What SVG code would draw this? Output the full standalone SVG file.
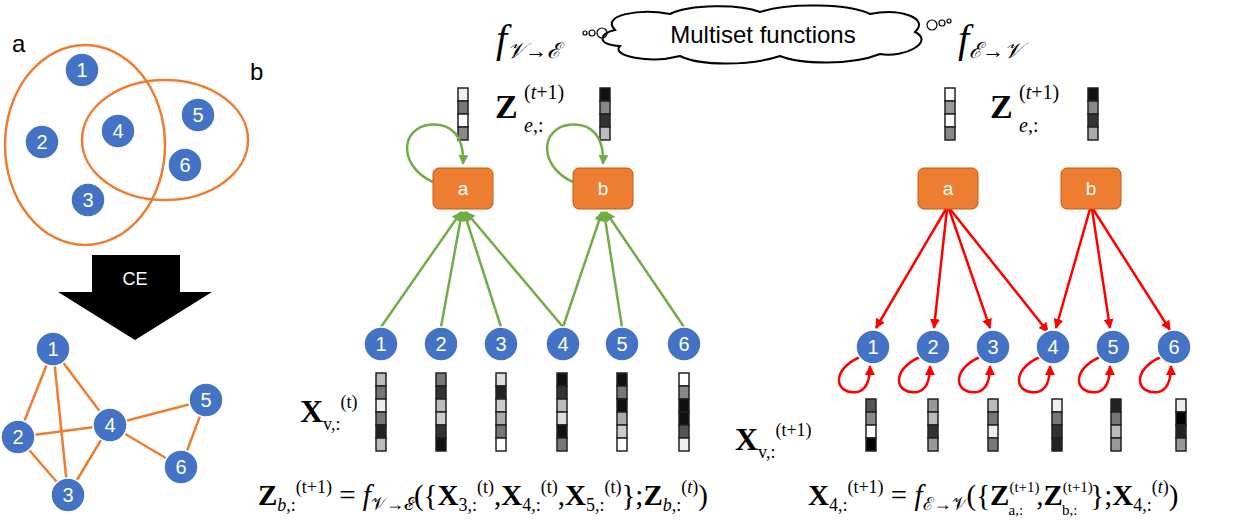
<svg xmlns="http://www.w3.org/2000/svg" width="1242" height="522" viewBox="0 0 1242 522">
<style>
.n{fill:#4472c4;stroke:#fff;stroke-width:1.5}
.nt{font-family:"Liberation Sans",Arial,sans-serif;font-size:20px;fill:#fff;text-anchor:middle}
.oe{fill:none;stroke:#ed7d31;stroke-width:2.5}
.box{fill:#ed7d31;stroke:#c55a11;stroke-width:1}
.bt{font-family:"Liberation Sans",Arial,sans-serif;font-size:19px;fill:#fff;text-anchor:middle}
.g{fill:none;stroke:#70ad47;stroke-width:2.5}
.r{fill:none;stroke:#ff0000;stroke-width:2.5}
.m{font-family:"Liberation Serif","Times New Roman",serif;fill:#000}
.c rect{stroke:#222;stroke-width:1.5}
.lbl{font-family:"Liberation Sans",Arial,sans-serif;font-size:24px}
</style>
<defs>
<marker id="ga" viewBox="0 0 10 10" refX="9" refY="5" markerWidth="4" markerHeight="4" orient="auto"><path d="M0,0L10,5L0,10z" fill="#70ad47"/></marker>
<marker id="ra" viewBox="0 0 10 10" refX="9" refY="5" markerWidth="4" markerHeight="4" orient="auto"><path d="M0,0L10,5L0,10z" fill="#ff0000"/></marker>
</defs>
<rect width="1242" height="522" fill="#fff"/>
<!-- panel a -->
<text class="lbl" x="12" y="52">a</text>
<ellipse class="oe" cx="85" cy="145" rx="80" ry="100"/>
<ellipse class="oe" cx="165" cy="140" rx="83" ry="60"/>
<g id="a1"><circle class="n" cx="82" cy="70" r="17"/><text class="nt" x="82" y="77">1</text></g>
<g id="a2"><circle class="n" cx="42" cy="142" r="17"/><text class="nt" x="42" y="149">2</text></g>
<g id="a3"><circle class="n" cx="88" cy="200" r="17"/><text class="nt" x="88" y="207">3</text></g>
<g id="a4"><circle class="n" cx="118" cy="131" r="17"/><text class="nt" x="118" y="138">4</text></g>
<g id="a5"><circle class="n" cx="198" cy="115" r="17"/><text class="nt" x="198" y="122">5</text></g>
<g id="a6"><circle class="n" cx="185" cy="165" r="17"/><text class="nt" x="185" y="172">6</text></g>
<g id="ce"><path d="M92,255H180V292H212L135,340L58,292H92Z" fill="#000"/><text x="135" y="285" font-family="Liberation Sans,Arial,sans-serif" font-size="18" fill="#fff" text-anchor="middle">CE</text></g>
<g id="ceedges" stroke="#ed7d31" stroke-width="2.5">
<line x1="53" y1="349" x2="18" y2="437"/><line x1="53" y1="349" x2="68" y2="495"/><line x1="53" y1="349" x2="110" y2="425"/>
<line x1="18" y1="437" x2="68" y2="495"/><line x1="18" y1="437" x2="110" y2="425"/><line x1="68" y1="495" x2="110" y2="425"/>
<line x1="110" y1="425" x2="206" y2="400"/><line x1="206" y1="400" x2="181" y2="467"/><line x1="110" y1="425" x2="181" y2="467"/>
</g>
<g id="c1"><circle class="n" cx="53" cy="349" r="17"/><text class="nt" x="53" y="356">1</text></g>
<g id="c2"><circle class="n" cx="18" cy="437" r="17"/><text class="nt" x="18" y="444">2</text></g>
<g id="c3"><circle class="n" cx="68" cy="495" r="17"/><text class="nt" x="68" y="502">3</text></g>
<g id="c4"><circle class="n" cx="110" cy="425" r="17"/><text class="nt" x="110" y="432">4</text></g>
<g id="c5"><circle class="n" cx="206" cy="400" r="17"/><text class="nt" x="206" y="407">5</text></g>
<g id="c6"><circle class="n" cx="181" cy="467" r="17"/><text class="nt" x="181" y="474">6</text></g>
<!-- panel b -->
<text class="lbl" x="250" y="80">b</text>
<g id="cloud">
<path d="M615,30 C600,15 640,8 670,14 C690,4 740,4 760,12 C790,2 850,4 870,14 C900,8 930,18 915,32 C935,42 905,58 880,54 C850,66 800,64 780,56 C750,66 700,66 680,56 C650,64 610,56 620,46 C595,44 600,33 615,30Z" fill="#fff" stroke="#000" stroke-width="2"/>
<text x="763" y="43" font-family="Liberation Sans,Arial,sans-serif" font-size="24" text-anchor="middle">Multiset functions</text>
<circle cx="585" cy="33" r="2" fill="none" stroke="#000" stroke-width="1.2"/><circle cx="592" cy="33" r="3" fill="none" stroke="#000" stroke-width="1.2"/><circle cx="602" cy="33" r="5" fill="none" stroke="#000" stroke-width="1.2"/>
<circle cx="932" cy="25" r="5" fill="none" stroke="#000" stroke-width="1.2"/><circle cx="942" cy="23" r="3" fill="none" stroke="#000" stroke-width="1.2"/><circle cx="949" cy="21" r="2" fill="none" stroke="#000" stroke-width="1.2"/>
</g>
<text class="m" x="496" y="52" font-size="40" font-style="italic">f<tspan font-size="22" dy="6">𝒱→ℰ</tspan></text>
<text class="m" x="958" y="52" font-size="40" font-style="italic">f<tspan font-size="22" dy="6">ℰ→𝒱</tspan></text>
<g id="zl1"><text class="m" x="495" y="118" font-size="34" font-weight="bold">Z</text><text class="m" x="524" y="99" font-size="20">(<tspan font-style="italic">t</tspan>+1)</text><text class="m" x="524" y="132" font-size="20" font-style="italic">e<tspan font-style="normal">,:</tspan></text></g>
<g id="zl2"><text class="m" x="990" y="118" font-size="34" font-weight="bold">Z</text><text class="m" x="1019" y="99" font-size="20">(<tspan font-style="italic">t</tspan>+1)</text><text class="m" x="1019" y="132" font-size="20" font-style="italic">e<tspan font-style="normal">,:</tspan></text></g>
<!-- Z vectors -->
<g class="c">
<rect x="458" y="88" width="10" height="13" fill="#eee"/><rect x="458" y="101" width="10" height="13" fill="#777"/><rect x="458" y="114" width="10" height="13" fill="#fff"/><rect x="458" y="127" width="10" height="13" fill="#888"/>
<rect x="600" y="88" width="10" height="13" fill="#111"/><rect x="600" y="101" width="10" height="13" fill="#888"/><rect x="600" y="114" width="10" height="13" fill="#333"/><rect x="600" y="127" width="10" height="13" fill="#bbb"/>
<rect x="945" y="88" width="10" height="13" fill="#fff"/><rect x="945" y="101" width="10" height="13" fill="#999"/><rect x="945" y="114" width="10" height="13" fill="#fff"/><rect x="945" y="127" width="10" height="13" fill="#888"/>
<rect x="1088" y="88" width="10" height="13" fill="#111"/><rect x="1088" y="101" width="10" height="13" fill="#888"/><rect x="1088" y="114" width="10" height="13" fill="#333"/><rect x="1088" y="127" width="10" height="13" fill="#aaa"/>
</g>
<g id="connectors">
<path class="g" d="M433,182 C395,165 400,120 440,125 C458,128 464,145 463,164" marker-end="url(#ga)"/>
<path class="g" d="M573,182 C535,165 540,120 580,125 C598,128 604,145 603,164" marker-end="url(#ga)"/>
<line class="g" x1="381" y1="327" x2="461" y2="212" marker-end="url(#ga)"/>
<line class="g" x1="441" y1="327" x2="462" y2="212" marker-end="url(#ga)"/>
<line class="g" x1="501" y1="327" x2="464" y2="212" marker-end="url(#ga)"/>
<line class="g" x1="563" y1="327" x2="466" y2="212" marker-end="url(#ga)"/>
<line class="g" x1="563" y1="327" x2="602" y2="212" marker-end="url(#ga)"/>
<line class="g" x1="622" y1="327" x2="604" y2="212" marker-end="url(#ga)"/>
<line class="g" x1="684" y1="327" x2="606" y2="212" marker-end="url(#ga)"/>
<line class="r" x1="946" y1="209" x2="876" y2="328" marker-end="url(#ra)"/>
<line class="r" x1="947" y1="209" x2="934" y2="328" marker-end="url(#ra)"/>
<line class="r" x1="949" y1="209" x2="990" y2="328" marker-end="url(#ra)"/>
<line class="r" x1="950" y1="209" x2="1048" y2="332" marker-end="url(#ra)"/>
<line class="r" x1="1090" y1="209" x2="1056" y2="328" marker-end="url(#ra)"/>
<line class="r" x1="1092" y1="209" x2="1110" y2="328" marker-end="url(#ra)"/>
<line class="r" x1="1093" y1="209" x2="1170" y2="330" marker-end="url(#ra)"/>
<path class="r" d="M860,357 C830,370 835,395 857,392 C868,390 870,378 870,366" marker-end="url(#ra)"/>
<path class="r" d="M920,357 C890,370 895,395 917,392 C928,390 930,378 930,366" marker-end="url(#ra)"/>
<path class="r" d="M980,357 C950,370 955,395 977,392 C988,390 990,378 990,366" marker-end="url(#ra)"/>
<path class="r" d="M1040,357 C1010,370 1015,395 1037,392 C1048,390 1050,378 1050,366" marker-end="url(#ra)"/>
<path class="r" d="M1100,357 C1070,370 1075,395 1097,392 C1108,390 1110,378 1110,366" marker-end="url(#ra)"/>
<path class="r" d="M1161,357 C1131,370 1136,395 1158,392 C1169,390 1171,378 1171,366" marker-end="url(#ra)"/>
</g>
<g id="ba"><rect class="box" x="433" y="168" width="60" height="41" rx="6"/><text class="bt" x="463" y="195">a</text></g>
<g id="bb"><rect class="box" x="573" y="168" width="60" height="41" rx="6"/><text class="bt" x="603" y="195">b</text></g>
<g id="ra_"><rect class="box" x="918" y="168" width="60" height="41" rx="6"/><text class="bt" x="948" y="195">a</text></g>
<g id="rb_"><rect class="box" x="1061" y="168" width="60" height="41" rx="6"/><text class="bt" x="1091" y="195">b</text></g>
<g id="L1"><circle class="n" cx="381" cy="344" r="17"/><text class="nt" x="381" y="351">1</text></g>
<g id="L2"><circle class="n" cx="441" cy="344" r="17"/><text class="nt" x="441" y="351">2</text></g>
<g id="L3"><circle class="n" cx="501" cy="344" r="17"/><text class="nt" x="501" y="351">3</text></g>
<g id="L4"><circle class="n" cx="563" cy="344" r="17"/><text class="nt" x="563" y="351">4</text></g>
<g id="L5"><circle class="n" cx="622" cy="344" r="17"/><text class="nt" x="622" y="351">5</text></g>
<g id="L6"><circle class="n" cx="684" cy="344" r="17"/><text class="nt" x="684" y="351">6</text></g>
<g id="R1"><circle class="n" cx="873" cy="347" r="17"/><text class="nt" x="873" y="354">1</text></g>
<g id="R2"><circle class="n" cx="933" cy="347" r="17"/><text class="nt" x="933" y="354">2</text></g>
<g id="R3"><circle class="n" cx="993" cy="347" r="17"/><text class="nt" x="993" y="354">3</text></g>
<g id="R4"><circle class="n" cx="1053" cy="347" r="17"/><text class="nt" x="1053" y="354">4</text></g>
<g id="R5"><circle class="n" cx="1113" cy="347" r="17"/><text class="nt" x="1113" y="354">5</text></g>
<g id="R6"><circle class="n" cx="1174" cy="347" r="17"/><text class="nt" x="1174" y="354">6</text></g>
<!-- X vectors left -->
<g class="c">
<rect x="376" y="373" width="10" height="13" fill="#bbb"/><rect x="376" y="386" width="10" height="13" fill="#777"/><rect x="376" y="399" width="10" height="13" fill="#eee"/><rect x="376" y="412" width="10" height="13" fill="#777"/><rect x="376" y="425" width="10" height="13" fill="#222"/><rect x="376" y="438" width="10" height="13" fill="#bbb"/>
<rect x="436" y="373" width="10" height="13" fill="#777"/><rect x="436" y="386" width="10" height="13" fill="#333"/><rect x="436" y="399" width="10" height="13" fill="#bbb"/><rect x="436" y="412" width="10" height="13" fill="#ccc"/><rect x="436" y="425" width="10" height="13" fill="#333"/><rect x="436" y="438" width="10" height="13" fill="#111"/>
<rect x="496" y="373" width="10" height="13" fill="#ddd"/><rect x="496" y="386" width="10" height="13" fill="#222"/><rect x="496" y="399" width="10" height="13" fill="#ccc"/><rect x="496" y="412" width="10" height="13" fill="#aaa"/><rect x="496" y="425" width="10" height="13" fill="#777"/><rect x="496" y="438" width="10" height="13" fill="#fff"/>
<rect x="557" y="373" width="10" height="13" fill="#111"/><rect x="557" y="386" width="10" height="13" fill="#333"/><rect x="557" y="399" width="10" height="13" fill="#bbb"/><rect x="557" y="412" width="10" height="13" fill="#ddd"/><rect x="557" y="425" width="10" height="13" fill="#111"/><rect x="557" y="438" width="10" height="13" fill="#777"/>
<rect x="617" y="373" width="10" height="13" fill="#111"/><rect x="617" y="386" width="10" height="13" fill="#777"/><rect x="617" y="399" width="10" height="13" fill="#111"/><rect x="617" y="412" width="10" height="13" fill="#aaa"/><rect x="617" y="425" width="10" height="13" fill="#ccc"/><rect x="617" y="438" width="10" height="13" fill="#fff"/>
<rect x="679" y="373" width="10" height="13" fill="#fff"/><rect x="679" y="386" width="10" height="13" fill="#888"/><rect x="679" y="399" width="10" height="13" fill="#111"/><rect x="679" y="412" width="10" height="13" fill="#111"/><rect x="679" y="425" width="10" height="13" fill="#555"/><rect x="679" y="438" width="10" height="13" fill="#eee"/>
</g>
<!-- X vectors right -->
<g class="c">
<rect x="866" y="399" width="10" height="13" fill="#555"/><rect x="866" y="412" width="10" height="13" fill="#888"/><rect x="866" y="425" width="10" height="13" fill="#fff"/><rect x="866" y="438" width="10" height="13" fill="#000"/>
<rect x="928" y="399" width="10" height="13" fill="#999"/><rect x="928" y="412" width="10" height="13" fill="#bbb"/><rect x="928" y="425" width="10" height="13" fill="#333"/><rect x="928" y="438" width="10" height="13" fill="#999"/>
<rect x="988" y="399" width="10" height="13" fill="#bbb"/><rect x="988" y="412" width="10" height="13" fill="#777"/><rect x="988" y="425" width="10" height="13" fill="#eee"/><rect x="988" y="438" width="10" height="13" fill="#777"/>
<rect x="1052" y="399" width="10" height="13" fill="#eee"/><rect x="1052" y="412" width="10" height="13" fill="#777"/><rect x="1052" y="425" width="10" height="13" fill="#333"/><rect x="1052" y="438" width="10" height="13" fill="#222"/>
<rect x="1111" y="399" width="10" height="13" fill="#222"/><rect x="1111" y="412" width="10" height="13" fill="#777"/><rect x="1111" y="425" width="10" height="13" fill="#bbb"/><rect x="1111" y="438" width="10" height="13" fill="#999"/>
<rect x="1176" y="399" width="10" height="13" fill="#eee"/><rect x="1176" y="412" width="10" height="13" fill="#000"/><rect x="1176" y="425" width="10" height="13" fill="#222"/><rect x="1176" y="438" width="10" height="13" fill="#999"/>
</g>
<text class="m" x="300" y="422" font-size="32" font-weight="bold">X<tspan font-size="18" font-weight="normal" dy="8">v,:</tspan><tspan font-size="18" font-weight="normal" dy="-22">(t)</tspan></text>
<text class="m" x="735" y="450" font-size="32" font-weight="bold">X<tspan font-size="18" font-weight="normal" dy="8">v,:</tspan><tspan font-size="18" font-weight="normal" dy="-22">(t+1)</tspan></text>
<text class="m" x="258" y="505" font-size="29"><tspan font-weight="bold">Z</tspan><tspan font-size="18" font-style="italic" dy="6">b</tspan><tspan font-size="18">,:</tspan><tspan font-size="18" dy="-18">(t+1)</tspan><tspan dy="12"> = </tspan><tspan font-style="italic">f</tspan><tspan font-size="18" dy="5">𝒱→ℰ</tspan><tspan dy="-5">({</tspan><tspan font-weight="bold">X</tspan><tspan font-size="18" dy="6">3,:</tspan><tspan font-size="18" dy="-18">(t)</tspan><tspan dy="12">,</tspan><tspan font-weight="bold">X</tspan><tspan font-size="18" dy="6">4,:</tspan><tspan font-size="18" dy="-18">(t)</tspan><tspan dy="12">,</tspan><tspan font-weight="bold">X</tspan><tspan font-size="18" dy="6">5,:</tspan><tspan font-size="18" dy="-18">(t)</tspan><tspan dy="12">};</tspan><tspan font-weight="bold">Z</tspan><tspan font-size="18" font-style="italic" dy="6">b</tspan><tspan font-size="18">,:</tspan><tspan font-size="18" dy="-18">(</tspan><tspan font-size="18" font-style="italic">t</tspan><tspan font-size="18">)</tspan><tspan dy="12">)</tspan></text>
<text class="m" x="808" y="505" font-size="29"><tspan font-weight="bold">X</tspan><tspan font-size="18" dy="6">4,:</tspan><tspan font-size="18" dy="-18">(t+1)</tspan><tspan dy="12"> = </tspan><tspan font-style="italic">f</tspan><tspan font-size="18" dy="5">ℰ→𝒱</tspan><tspan dy="-5">({</tspan><tspan font-weight="bold">Z</tspan><tspan font-size="15" dy="-13">(t+1)</tspan><tspan font-size="15" dx="-31" dy="23">a,:</tspan><tspan dx="13" dy="-10">,</tspan><tspan font-weight="bold">Z</tspan><tspan font-size="15" dy="-13">(t+1)</tspan><tspan font-size="15" dx="-31" dy="23">b,:</tspan><tspan dx="13" dy="-10">};</tspan><tspan font-weight="bold">X</tspan><tspan font-size="18" dy="6">4,:</tspan><tspan font-size="18" dy="-18">(</tspan><tspan font-size="18" font-style="italic">t</tspan><tspan font-size="18">)</tspan><tspan dy="12">)</tspan></text>
</svg>
